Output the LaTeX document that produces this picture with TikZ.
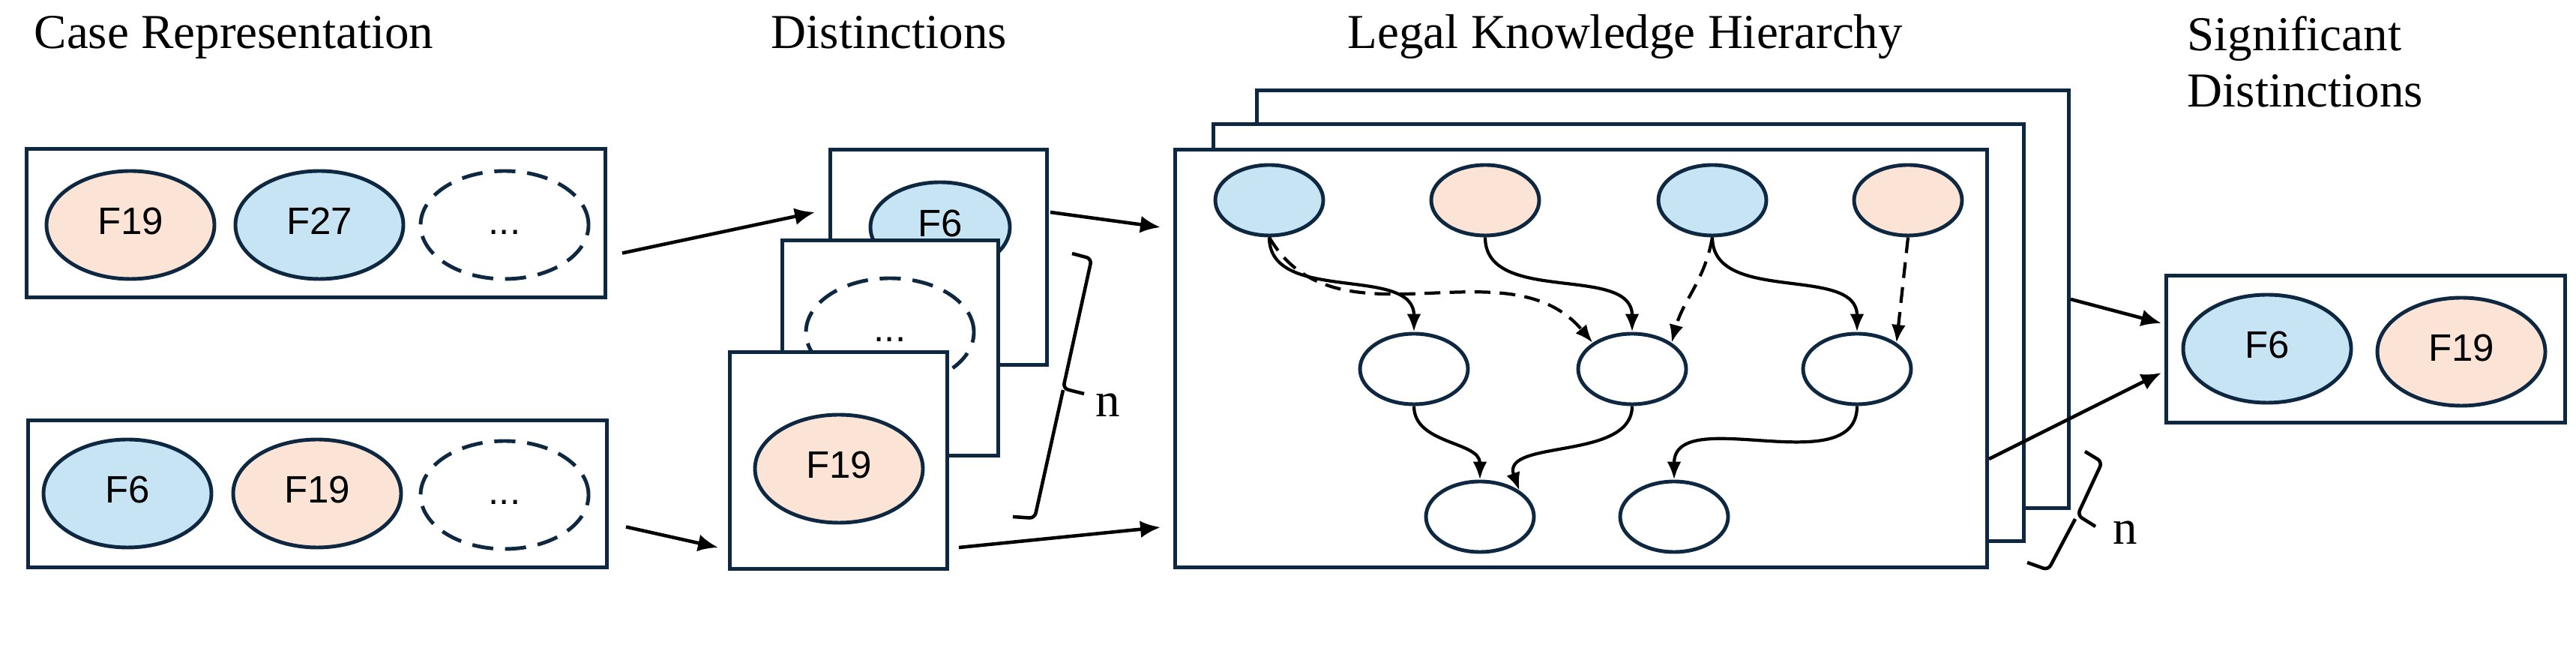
\documentclass[tikz,border=0pt]{standalone}
\usepackage{fontspec}
\setmainfont{Liberation Serif}
\newfontfamily\labelfont{Liberation Sans}
\usetikzlibrary{arrows.meta, shapes.geometric}
\definecolor{navy}{RGB}{14,40,65}
\definecolor{factblue}{RGB}{199,228,245}
\definecolor{factpeach}{RGB}{251,227,214}

\begin{document}
\begin{tikzpicture}[
		box/.style={draw=navy, line width=1.4pt, fill=white, rectangle, inner sep=0pt},
		fact/.style={draw=navy, line width=1.4pt, ellipse, minimum width=2.24cm, minimum height=1.44cm, inner sep=0pt, font=\labelfont\fontsize{14.5}{17}\selectfont, text height=0.72em, text depth=0pt},
		open/.style={fill=white, dash pattern=on 8pt off 4.5pt},
		gnode/.style={draw=navy, line width=1.4pt, ellipse, minimum width=1.44cm, minimum height=0.94cm, inner sep=0pt},
		link/.style={-{Latex[length=0.24cm,width=0.19cm]}, line width=1.2pt},
		dlink/.style={link, dash pattern=on 6pt off 3.5pt},
		flow/.style={-{Latex[length=0.27cm,width=0.23cm]}, line width=1.3pt},
		title/.style={font=\fontsize{18.5}{21.6}\selectfont, anchor=base west, inner sep=0pt}
	]
	\useasboundingbox (0,0) rectangle (34.36,8.84);
	
	% titles
	\node[title] (t1) at (0.45,8.19) {Case Representation};
	\node[title] (t2) at (10.28,8.19) {Distinctions};
	\node[title] (t3) at (17.97,8.19) {Legal Knowledge Hierarchy};
	\node[title, align=left] (t4) at (29.17,7.41) {Significant\\Distinctions};
	
	% case representations
	\node[box, minimum width=7.72cm, minimum height=1.98cm] (case1) at (4.215,5.865) {};
	\node[fact, fill=factpeach] (c1a) at (1.74,5.84) {F19};
	\node[fact, fill=factblue] (c1b) at (4.26,5.84) {F27};
	\node[fact, open] (c1c) at (6.73,5.84) {...};
	
	\node[box, minimum width=7.72cm, minimum height=1.96cm] (case2) at (4.235,2.255) {};
	\node[fact, fill=factblue] (c2a) at (1.70,2.26) {F6};
	\node[fact, fill=factpeach] (c2b) at (4.23,2.26) {F19};
	\node[fact, open] (c2c) at (6.73,2.24) {...};
	
	% distinctions
	\node[box, minimum width=2.89cm, minimum height=2.87cm] (dist1) at (12.52,5.41) {};
	\node[fact, fill=factblue, minimum width=1.86cm, minimum height=1.2cm] (d1) at (12.54,5.81) {F6};
	\node[box, minimum width=2.88cm, minimum height=2.87cm] (dist2) at (11.875,4.20) {};
	\node[fact, open] (d2) at (11.87,4.41) {...};
	\node[box, minimum width=2.9cm, minimum height=2.89cm] (dist3) at (11.185,2.70) {};
	\node[fact, fill=factpeach] (d3) at (11.19,2.59) {F19};
	
	\draw[line width=1.3pt, rounded corners=2pt] (14.30,5.46) -- (14.56,5.39) -- (14.18,3.66) -- (14.46,3.59);
	\draw[line width=1.3pt, rounded corners=2pt] (14.18,3.64) -- (13.80,1.93) -- (13.51,1.95);
	\node[font=\fontsize{18.5}{21.6}\selectfont] (n1) at (14.78,3.44) {n};
	
	% hierarchy
	\node[box, minimum width=10.83cm, minimum height=5.57cm] (lkh3) at (22.18,4.85) {};
	\node[box, minimum width=10.81cm, minimum height=5.56cm] (lkh2) at (21.59,4.405) {};
	\node[box, minimum width=10.83cm, minimum height=5.57cm] (lkh1) at (21.09,4.06) {};
	
	\node[gnode, fill=factblue] (g1) at (16.93,6.17) {};
	\node[gnode, fill=factpeach] (g2) at (19.81,6.17) {};
	\node[gnode, fill=factblue] (g3) at (22.84,6.17) {};
	\node[gnode, fill=factpeach] (g4) at (25.45,6.17) {};
	\node[gnode] (m1) at (18.86,3.92) {};
	\node[gnode] (m2) at (21.77,3.92) {};
	\node[gnode] (m3) at (24.77,3.92) {};
	\node[gnode] (b1) at (19.74,1.95) {};
	\node[gnode] (b2) at (22.33,1.95) {};
	
	\draw[link] (g1.south) to[out=-90, in=90] (m1.north);
	\draw[dlink] (g1.south) to[out=-60, in=130] (m2.north west);
	\draw[link] (g2.south) to[out=-90, in=90] (m2.north);
	\draw[dlink] (g3.south) to[out=-100, in=75] (m2.north east);
	\draw[link] (g3.south) to[out=-90, in=90] (m3.north);
	\draw[dlink] (g4.south) -- (m3.north east);
	\draw[link] (m1.south) to[out=-90, in=90] (b1.north);
	\draw[link] (m2.south) to[out=-90, in=110] (b1.north east);
	\draw[link] (m3.south) to[out=-90, in=90] (b2.north);
	
	\draw[line width=1.3pt, rounded corners=2pt] (27.81,2.82) -- (28.04,2.68) -- (27.71,1.97) -- (27.95,1.82);
	\draw[line width=1.3pt, rounded corners=2pt] (27.68,1.92) -- (27.32,1.24) -- (27.04,1.34);
	\node[font=\fontsize{18.5}{21.6}\selectfont] (n2) at (28.35,1.74) {n};
	
	% significant distinctions
	\node[box, minimum width=5.32cm, minimum height=1.96cm] (sig) at (31.555,4.185) {};
	\node[fact, fill=factblue] (s1) at (30.24,4.19) {F6};
	\node[fact, fill=factpeach] (s2) at (32.83,4.15) {F19};
	
	% arrows
	\draw[flow] ([xshift=0.2cm,yshift=-0.4cm]case1.east) -- ([xshift=-0.18cm,yshift=0.6cm]dist1.west);
	\draw[flow] ([xshift=0.23cm,yshift=-0.44cm]case2.east) -- ([xshift=-0.13cm,yshift=-1.16cm]dist3.west);
	\draw[flow] ([xshift=0.02cm,yshift=0.6cm]dist1.east) -- ([xshift=-0.17cm,yshift=1.75cm]lkh1.west);
	\draw[flow] ([xshift=0.13cm,yshift=-1.16cm]dist3.east) -- ([xshift=-0.17cm,yshift=-2.25cm]lkh1.west);
	\draw[flow] (lkh3.east) -- ([xshift=-0.04cm,yshift=0.345cm]sig.west);
	\draw[flow] ([yshift=-1.34cm]lkh1.east) -- ([xshift=-0.04cm,yshift=-0.315cm]sig.west);
\end{tikzpicture}
\end{document}
